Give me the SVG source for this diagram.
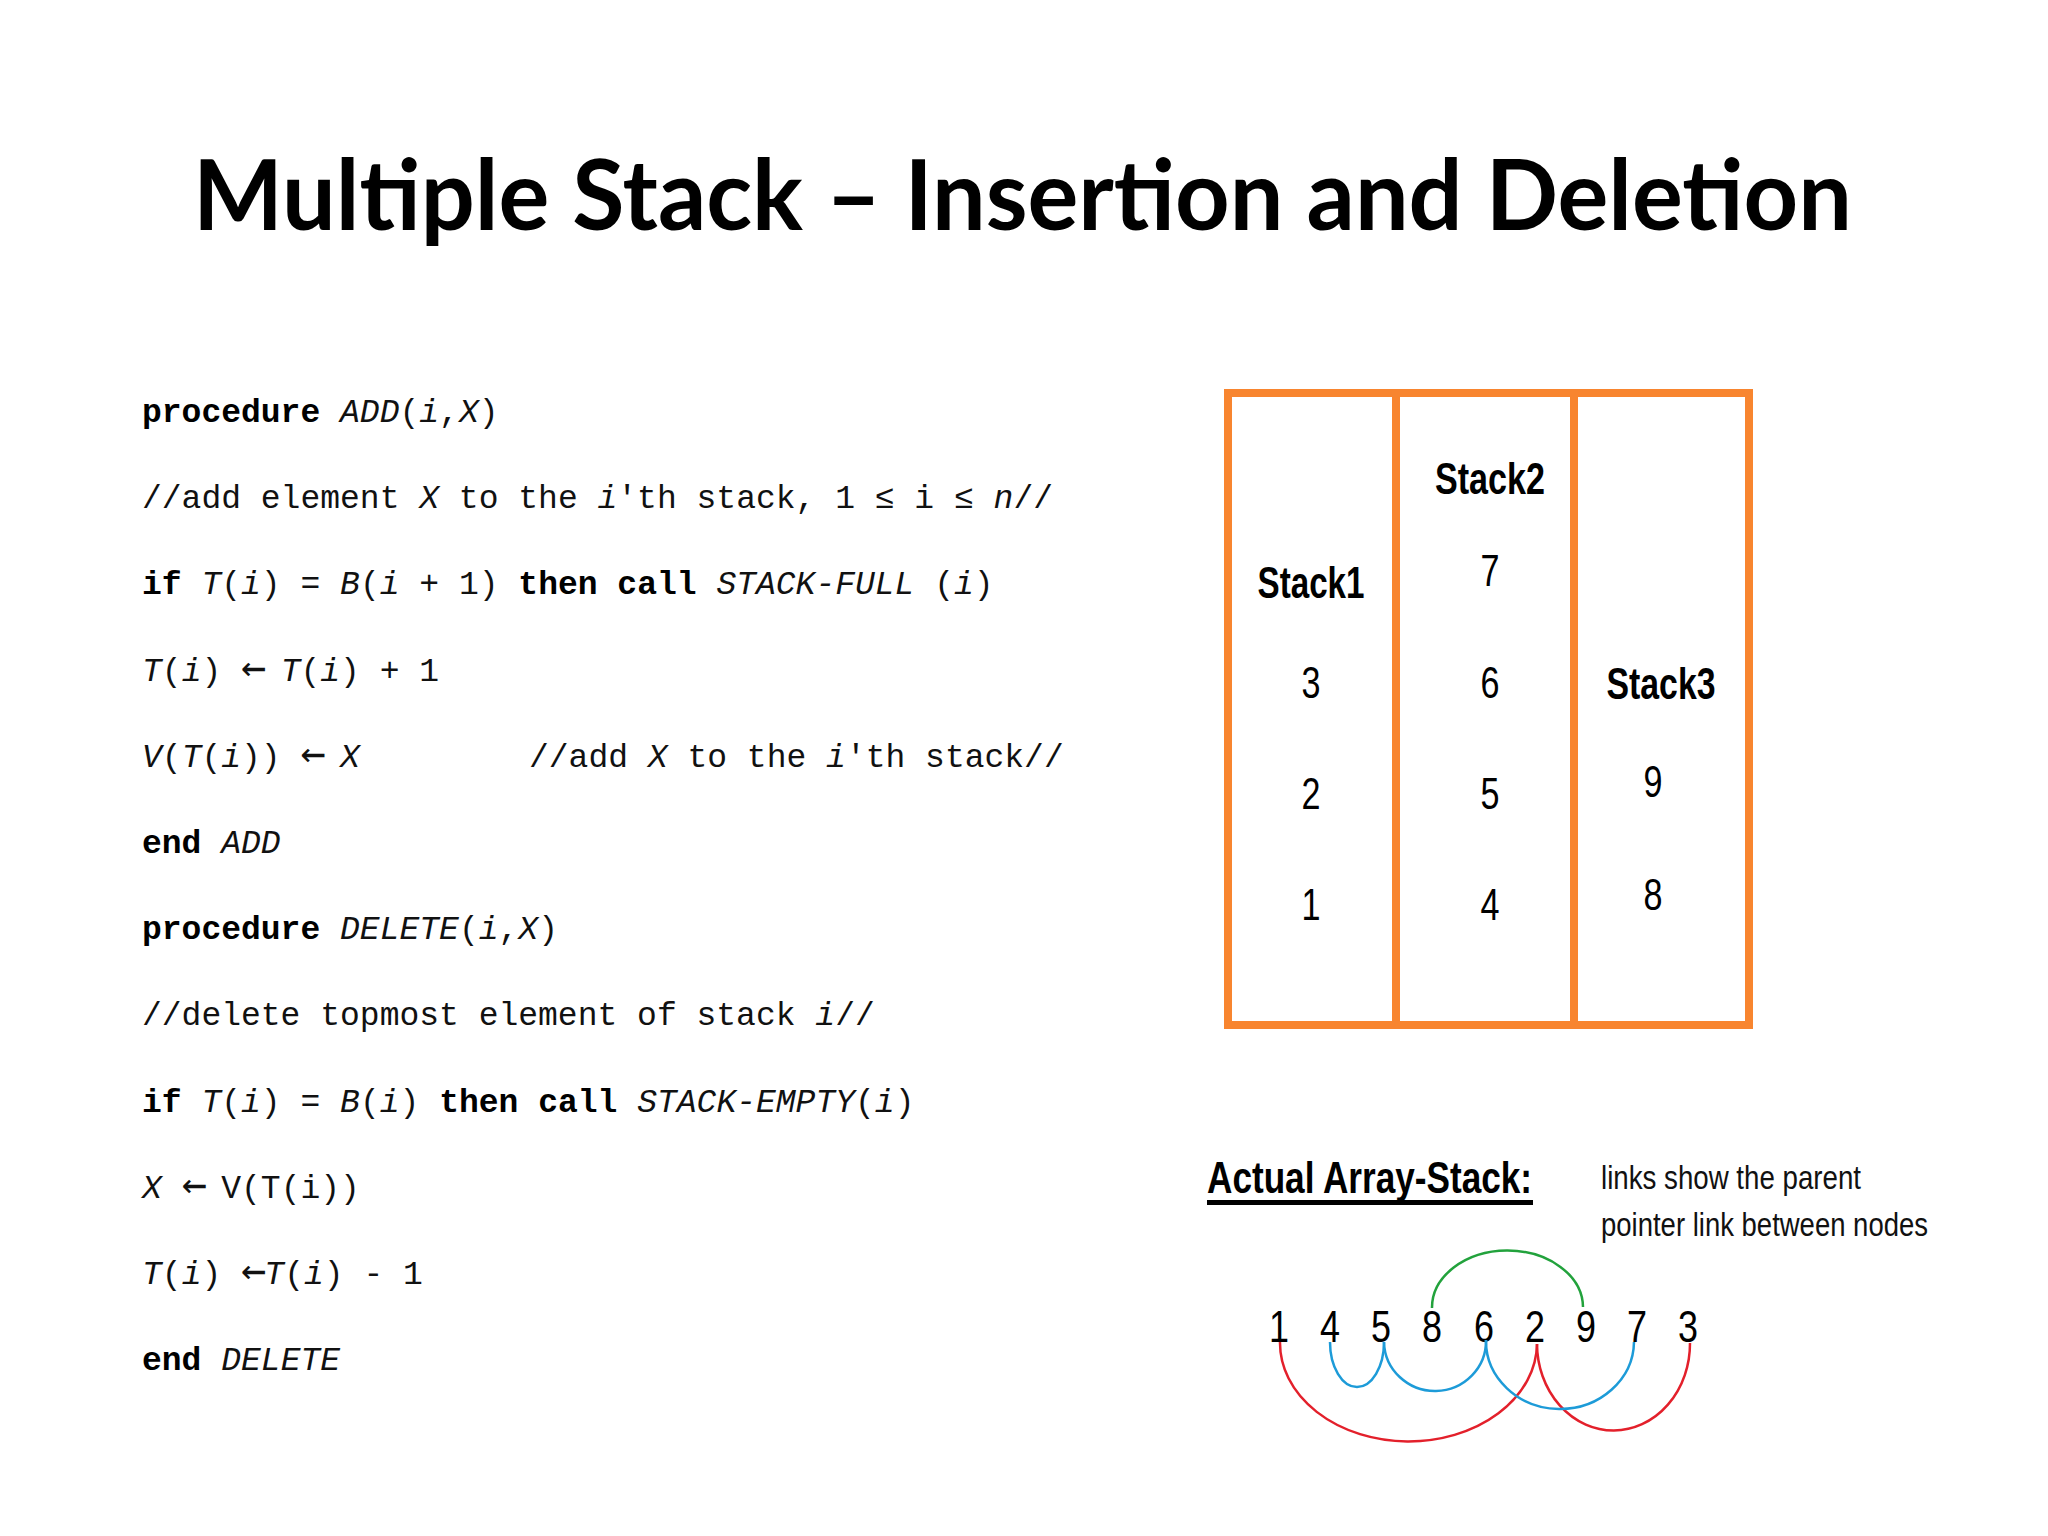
<svg xmlns="http://www.w3.org/2000/svg" width="2048" height="1536" viewBox="0 0 2048 1536">
<style>
.title{font-family:Lato,"Open Sans","Liberation Sans",sans-serif;font-weight:700;font-size:98px;fill:#000}
.code{font-family:"Liberation Mono","DejaVu Sans Mono",monospace;font-size:33px;fill:#111}
.k{font-weight:700;fill:#000}
.v{font-style:italic}
.ar{font-family:"DejaVu Sans Mono","Liberation Mono",monospace;font-size:42px}
.lbl{font-family:"Liberation Sans",Arial,sans-serif;font-weight:700;font-size:45px;fill:#000;text-anchor:middle}
.num{font-family:"Liberation Sans",Arial,sans-serif;font-size:45px;fill:#000;text-anchor:middle}
.note{font-family:"Liberation Sans",Arial,sans-serif;font-size:33px;fill:#111}
.box{fill:none;stroke:#f8852f;stroke-width:8}
.arc{fill:none;stroke-width:2.5}
.red{stroke:#e3202b}
.blue{stroke:#1d9bd8}
.green{stroke:#22a23c}
</style>
<rect width="2048" height="1536" fill="#ffffff"/>
<text class="title" x="193" y="230" textLength="1659" lengthAdjust="spacingAndGlyphs">Multiple Stack – Insertion and Deletion</text>

<g id="code">
<text class="code" x="142" y="422"><tspan class="k">procedure</tspan> <tspan class="v">ADD</tspan>(<tspan class="v">i</tspan>,<tspan class="v">X</tspan>)</text>
<text class="code" x="142" y="508">//add element <tspan class="v">X</tspan> to the <tspan class="v">i</tspan>'th stack, 1 ≤ i ≤ <tspan class="v">n</tspan>//</text>
<text class="code" x="142" y="594"><tspan class="k">if</tspan> <tspan class="v">T</tspan>(<tspan class="v">i</tspan>) = <tspan class="v">B</tspan>(<tspan class="v">i</tspan> + 1) <tspan class="k">then call</tspan> <tspan class="v">STACK-FULL</tspan> (<tspan class="v">i</tspan>)</text>
<text class="code" x="142" y="681"><tspan class="v">T</tspan>(<tspan class="v">i</tspan>) <tspan class="ar">←</tspan><tspan dx="-5.5"> </tspan><tspan class="v">T</tspan>(<tspan class="v">i</tspan>) + 1</text>
<text class="code" x="142" y="767"><tspan class="v">V</tspan>(<tspan class="v">T</tspan>(<tspan class="v">i</tspan>)) <tspan class="ar">←</tspan><tspan dx="-5.5"> </tspan><tspan class="v">X</tspan></text>
<text class="code" x="529" y="767">//add <tspan class="v">X</tspan> to the <tspan class="v">i</tspan>'th stack//</text>
<text class="code" x="142" y="853"><tspan class="k">end</tspan> <tspan class="v">ADD</tspan></text>
<text class="code" x="142" y="939"><tspan class="k">procedure</tspan> <tspan class="v">DELETE</tspan>(<tspan class="v">i</tspan>,<tspan class="v">X</tspan>)</text>
<text class="code" x="142" y="1025">//delete topmost element of stack <tspan class="v">i</tspan>//</text>
<text class="code" x="142" y="1112"><tspan class="k">if</tspan> <tspan class="v">T</tspan>(<tspan class="v">i</tspan>) = <tspan class="v">B</tspan>(<tspan class="v">i</tspan>) <tspan class="k">then call</tspan> <tspan class="v">STACK-EMPTY</tspan>(<tspan class="v">i</tspan>)</text>
<text class="code" x="142" y="1198"><tspan class="v">X</tspan> <tspan class="ar">←</tspan><tspan dx="-5.5"> </tspan>V(T(i))</text>
<text class="code" x="142" y="1284"><tspan class="v">T</tspan>(<tspan class="v">i</tspan>) <tspan class="ar">←</tspan><tspan class="v" dx="-2">T</tspan>(<tspan class="v">i</tspan>) - 1</text>
<text class="code" x="142" y="1370"><tspan class="k">end</tspan> <tspan class="v">DELETE</tspan></text>
</g>

<g id="stack-frame">
<rect class="box" x="1228" y="393" width="521" height="632"/>
<line class="box" x1="1396" y1="393" x2="1396" y2="1025"/>
<line class="box" x1="1574" y1="393" x2="1574" y2="1025"/>
</g>
<g id="stack1">
<text class="lbl" x="1311" y="598" textLength="107" lengthAdjust="spacingAndGlyphs">Stack1</text>
<text class="num" x="1311" y="698" textLength="19" lengthAdjust="spacingAndGlyphs">3</text>
<text class="num" x="1311" y="809" textLength="19" lengthAdjust="spacingAndGlyphs">2</text>
<text class="num" x="1311" y="920" textLength="19" lengthAdjust="spacingAndGlyphs">1</text>
</g>
<g id="stack2">
<text class="lbl" x="1490" y="494" textLength="110" lengthAdjust="spacingAndGlyphs">Stack2</text>
<text class="num" x="1490" y="586" textLength="19" lengthAdjust="spacingAndGlyphs">7</text>
<text class="num" x="1490" y="698" textLength="19" lengthAdjust="spacingAndGlyphs">6</text>
<text class="num" x="1490" y="809" textLength="19" lengthAdjust="spacingAndGlyphs">5</text>
<text class="num" x="1490" y="920" textLength="19" lengthAdjust="spacingAndGlyphs">4</text>
</g>
<g id="stack3">
<text class="lbl" x="1661" y="699" textLength="109" lengthAdjust="spacingAndGlyphs">Stack3</text>
<text class="num" x="1653" y="797" textLength="19" lengthAdjust="spacingAndGlyphs">9</text>
<text class="num" x="1653" y="910" textLength="19" lengthAdjust="spacingAndGlyphs">8</text>
</g>

<g id="array-title">
<text class="lbl" x="1207" y="1193" style="text-anchor:start" textLength="325" lengthAdjust="spacingAndGlyphs">Actual Array-Stack:</text>
<rect x="1207" y="1200" width="326" height="5" fill="#000"/>
</g>
<g id="note">
<text class="note" x="1601" y="1189" textLength="260" lengthAdjust="spacingAndGlyphs">links show the parent</text>
<text class="note" x="1601" y="1236" textLength="327" lengthAdjust="spacingAndGlyphs">pointer link between nodes</text>
</g>

<g id="array">
<g id="a1"><text class="num" x="1279" y="1342" textLength="20" lengthAdjust="spacingAndGlyphs">1</text></g>
<g id="a4"><text class="num" x="1330" y="1342" textLength="20" lengthAdjust="spacingAndGlyphs">4</text></g>
<g id="a5"><text class="num" x="1381" y="1342" textLength="20" lengthAdjust="spacingAndGlyphs">5</text></g>
<g id="a8"><text class="num" x="1432" y="1342" textLength="20" lengthAdjust="spacingAndGlyphs">8</text></g>
<g id="a6"><text class="num" x="1484" y="1342" textLength="20" lengthAdjust="spacingAndGlyphs">6</text></g>
<g id="a2"><text class="num" x="1535" y="1342" textLength="20" lengthAdjust="spacingAndGlyphs">2</text></g>
<g id="a9"><text class="num" x="1586" y="1342" textLength="20" lengthAdjust="spacingAndGlyphs">9</text></g>
<g id="a7"><text class="num" x="1637" y="1342" textLength="20" lengthAdjust="spacingAndGlyphs">7</text></g>
<g id="a3"><text class="num" x="1688" y="1342" textLength="20" lengthAdjust="spacingAndGlyphs">3</text></g>
</g>

<g id="connectors">
<path class="arc red" d="M1280,1342 A128,98 0 0 0 1537,1344"/>
<path class="arc red" d="M1537,1344 A76.5,87 0 0 0 1690,1343"/>
<path class="arc blue" d="M1330,1342 A27,45 0 0 0 1384,1342"/>
<path class="arc blue" d="M1384,1342 A51,50 0 0 0 1486,1340"/>
<path class="arc blue" d="M1486,1340 A74,68 0 0 0 1634,1342"/>
<path class="arc green" d="M1432,1308 A75.5,57 0 0 1 1583,1307"/>
</g>
</svg>
